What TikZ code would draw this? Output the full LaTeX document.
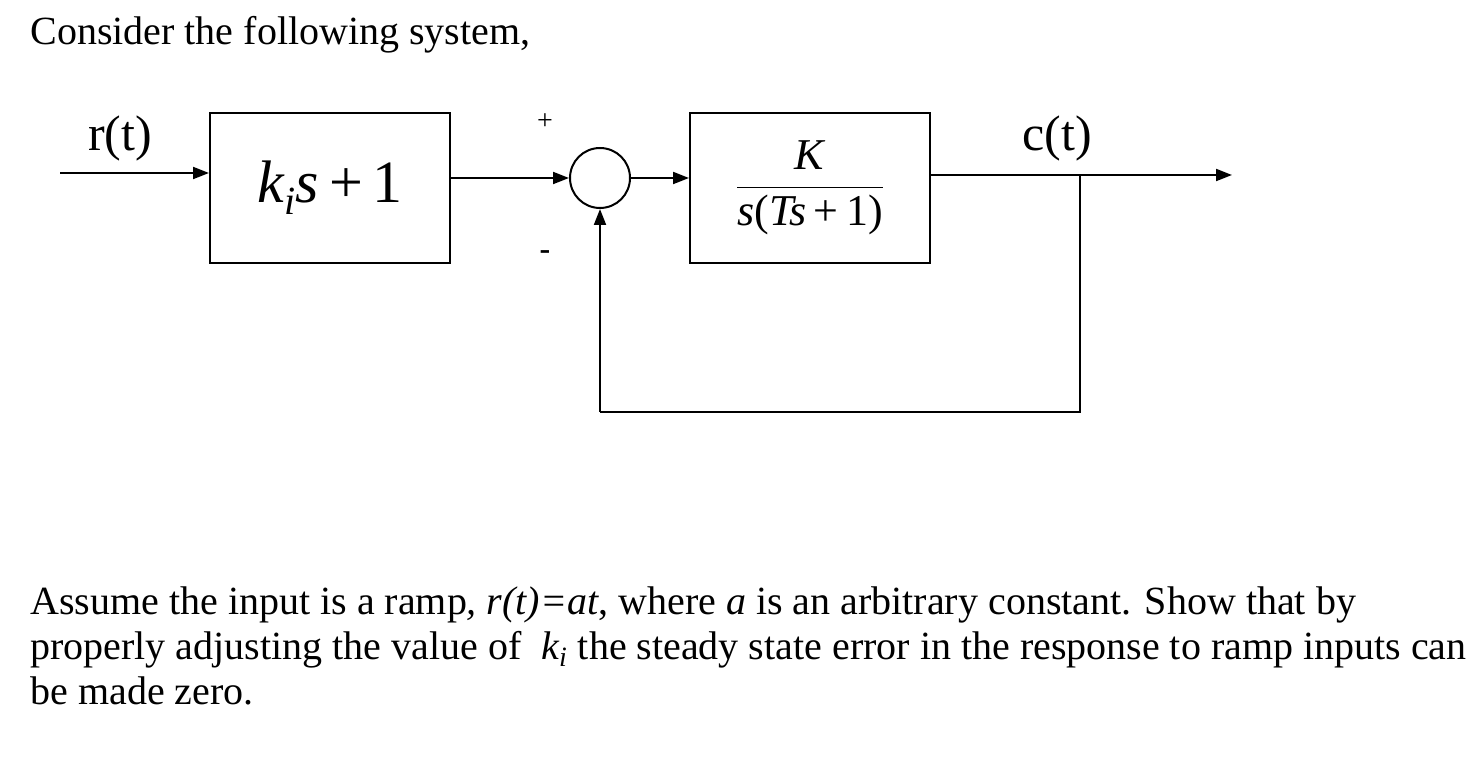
\documentclass[tikz,border=0pt]{standalone}
\usepackage{fontspec}
\setmainfont{Liberation Serif}
\usetikzlibrary{arrows.meta}
\begin{document}
\begin{tikzpicture}[x=0.5pt,y=-0.5pt,
  blk/.style={draw,line width=1pt,minimum width=120pt,minimum height=75pt,inner sep=0pt},
  ln/.style={line width=1pt},
  arr/.style={ln,-{Triangle[length=8pt,width=6pt]}},
  txt/.style={anchor=base west,inner sep=0pt,font=\fontsize{20}{24}\selectfont}]
\useasboundingbox (0,0) rectangle (1480,764);
\node[txt] (t1) at (30,45) {Consider the following system,};
\node[blk] (b1) at (330,188) {\fontsize{30}{34}\selectfont \textit{k}\raisebox{-6pt}{\fontsize{20}{20}\selectfont\textit{i}}\textit{s}\,+\,1};
\node[draw,circle,line width=1pt,minimum size=30pt,inner sep=0pt] (s) at (600,178) {};
\node[blk] (b2) at (810,188) {\fontsize{22}{26}\selectfont $\displaystyle\frac{\;\;\hbox{\textit{K}}\;\;}{\hbox{\textit{s}(\textit{Ts}\,+\,1)}}$};
\node[font=\fontsize{25}{28}\selectfont] (r) at (120,138) {r(t)};
\node[font=\fontsize{25}{28}\selectfont] (c) at (1057,138) {c(t)};
\node[font=\fontsize{14}{16}\selectfont] (p) at (545,122) {+};
\node[font=\fontsize{16}{16}\selectfont\bfseries] (m) at (545,255) {-};
\coordinate (in) at (60,173);
\coordinate (out) at (1232,175);
\coordinate (br) at (1080,175);
\coordinate (fb1) at (1080,412);
\coordinate (fb2) at (600,412);
\draw[arr] (in) -- (in -| b1.west);
\draw[arr] (b1.east |- s) -- (s.west);
\draw[arr] (s.east) -- (s -| b2.west);
\draw[arr] (b2.east |- out) -- (out);
\draw[ln] (br) -- (fb1) -- (fb2);
\draw[arr] (fb2) -- (s.south);
\node[txt] (t2) at (30,615) {Assume the input is a ramp\textit{, r(t)=at}, where \textit{a} is an arbitrary constant. Show that by};
\node[txt] (t3) at (30,660) {properly adjusting the value of \ \textit{k\textsubscript{i}} the steady state error in the response to ramp inputs can};
\node[txt] (t4) at (30,705) {be made zero.};
\end{tikzpicture}
\end{document}
